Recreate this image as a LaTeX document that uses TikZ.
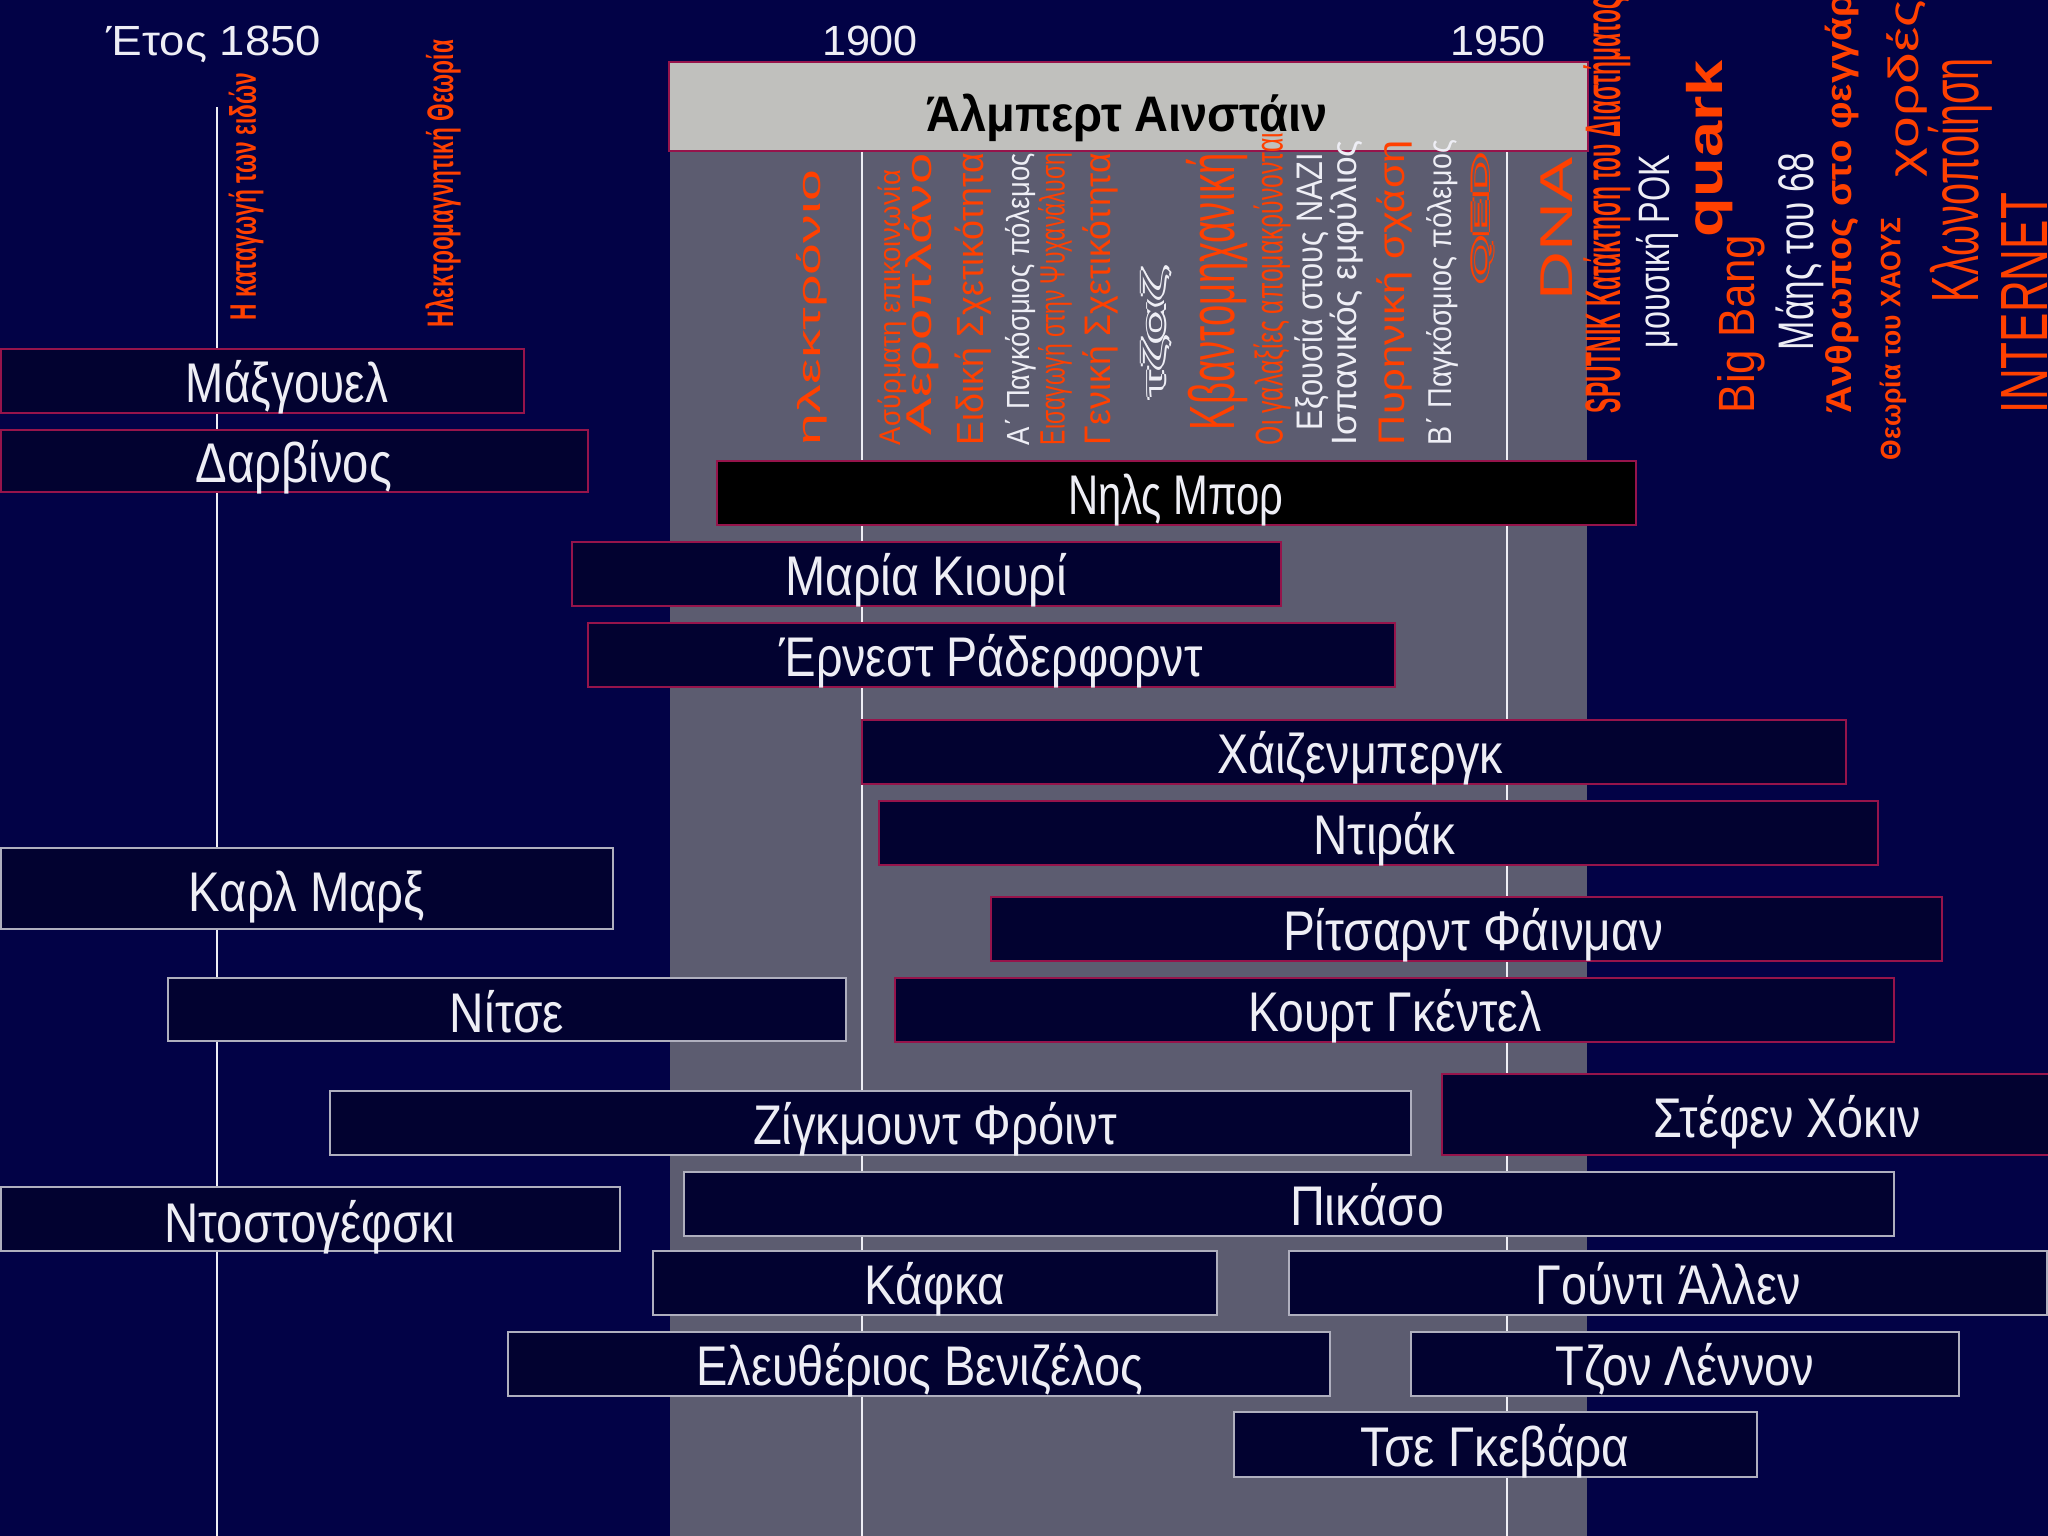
\documentclass[tikz,border=0pt]{standalone}
\usepackage{fontspec}
\setmainfont{Liberation Sans}
\usepackage{graphicx}
\newlength\pxu \setlength\pxu{0.01cm}
\newcommand\rs[2]{\resizebox{#1\pxu}{\height}{#2}}
\newcommand\fsz[1]{\fontsize{#1}{#1}\selectfont}
\newcommand\outl[3]{\leavevmode\rlap{\color{#1}\kern-.45pt#3}\rlap{\color{#1}\kern.45pt#3}\rlap{\color{#1}\raisebox{.45pt}{#3}}\rlap{\color{#1}\raisebox{-.45pt}{#3}}{\color{#2}#3}}
\definecolor{bg}{RGB}{2,2,70}
\definecolor{boxf}{RGB}{2,2,48}
\definecolor{greyarea}{RGB}{92,92,112}
\definecolor{hdr}{RGB}{192,192,189}
\definecolor{mar}{RGB}{150,20,75}
\definecolor{gbord}{RGB}{175,175,190}
\definecolor{rd}{RGB}{255,64,0}
\definecolor{wt}{RGB}{238,238,245}
\tikzset{
 vt/.style={rotate=90, anchor=west, inner sep=0pt, outer sep=0pt},
 nm/.style={anchor=base, inner sep=0pt, text=wt, font=\fsz{15.9}},
 mbox/.style={draw=mar, fill=boxf, line width=0.8pt},
 gbox/.style={draw=gbord, fill=boxf, line width=0.8pt},
 tl/.style={draw=wt, line width=0.6pt},
 yr/.style={anchor=base, inner sep=0pt, text=wt, font=\fsz{12}},
}
\begin{document}
\begin{tikzpicture}[x=0.01cm,y=-0.01cm]
\useasboundingbox (0,0) rectangle (2048,1536);
\clip (0,0) rectangle (2048,1536);
\fill[bg] (0,0) rectangle (2048,1536);
\fill[greyarea] (670,150) rectangle (1587,1536);
% time lines
\coordinate (a1850) at (217,107); \coordinate (b1850) at (217,1536);
\coordinate (a1900) at (862,151); \coordinate (b1900) at (862,1536);
\coordinate (a1950) at (1507,151); \coordinate (b1950) at (1507,1536);
\draw[tl] (a1850) -- (b1850);
\draw[tl] (a1900) -- (b1900);
\draw[tl] (a1950) -- (b1950);
% years
\node[yr] (y1850) at (214,55) {\rs{214}{Έτος 1850}};
\node[yr] (y1900) at (870,55) {\rs{96}{1900}};
\node[yr] (y1950) at (1498,55) {\rs{96}{1950}};
% header
\path[draw=mar, fill=hdr, line width=0.8pt] (669,62) rectangle (1588,151);
\node[anchor=base, inner sep=0pt, font=\fsz{14.2}\bfseries] (einstein) at (1127,131) {\rs{401}{Άλμπερτ Αινστάιν}};
% vertical texts
\node[vt, text=rd, font=\fsz{10.5}\bfseries] (vA) at (246,320) {\rs{247}{Η καταγωγή των ειδών}};
\node[vt, text=rd, font=\fsz{10.5}\bfseries] (vB) at (443,327) {\rs{287}{Ηλεκτρομαγνητική Θεωρία}};
\node[vt, text=rd, font=\fsz{9.1}] (v1) at (812,445) {\rs{275}{ηλεκτρόνιο}};
\node[vt, text=rd, font=\fsz{8.5}] (v2) at (892,445) {\rs{275}{Ασύρματη επικοινωνία}};
\node[vt, text=rd, font=\fsz{10.2}] (v3) at (922,435) {\rs{282}{Αεροπλάνο}};
\node[vt, text=rd, font=\fsz{10.8}] (v4) at (973,445) {\rs{292}{Ειδική Σχετικότητα}};
\node[vt, text=wt, font=\fsz{9.1}] (v5) at (1021,445) {\rs{292}{Α΄ Παγκόσμιος πόλεμος}};
\node[vt, text=rd, font=\fsz{10}] (v6) at (1055,445) {\rs{292}{Εισαγωγή στην Ψυχανάλυση}};
\node[vt, text=rd, font=\fsz{10.5}] (v7) at (1100,445) {\rs{292}{Γενική Σχετικότητα}};
\node[vt, font=\fsz{9.1}] (v8) at (1156,398) {\rs{130}{\outl{wt}{greyarea}{τζαζ}}};
\node[vt, text=rd, font=\fsz{18.2}] (v9) at (1217,430) {\rs{277}{Κβαντομηχανική}};
\node[vt, text=rd, font=\fsz{11}] (v10) at (1272,445) {\rs{312}{Οι γαλαξίες απομακρύνονται}};
\node[vt, text=wt, font=\fsz{10.5}] (v11) at (1312,430) {\rs{277}{Εξουσία στους NAZI}};
\node[vt, text=wt, font=\fsz{10}] (v12) at (1347,445) {\rs{305}{Ισπανικός εμφύλιος}};
\node[vt, text=rd, font=\fsz{10.5}] (v13) at (1394,445) {\rs{305}{Πυρηνική σχάση}};
\node[vt, text=wt, font=\fsz{9.4}] (v14) at (1442,445) {\rs{305}{Β΄ Παγκόσμιος πόλεμος}};
\node[vt, font=\fsz{6.8}] (v15) at (1483,283) {\rs{128}{\outl{rd}{greyarea}{QED}}};
\node[vt, text=rd, font=\fsz{13.1}] (v16) at (1557,300) {\rs{143}{DNA}};
\node[vt, text=rd, font=\fsz{14.2}\bfseries] (v17) at (1607,413) {\rs{415}{SPUTNIK Κατάκτηση του Διαστήματος}};
\node[vt, text=wt, font=\fsz{12.5}] (v18) at (1657,348) {\rs{193}{μουσική ΡΟΚ}};
\node[vt, text=rd, font=\fsz{14.2}\bfseries] (v19) at (1710,237) {\rs{177}{quark}};
\node[vt, text=rd, font=\fsz{14.5}] (v20) at (1741,413) {\rs{178}{Big Bang}};
\node[vt, text=wt, font=\fsz{14.2}] (v21) at (1800,350) {\rs{197}{Μάης του 68}};
\node[vt, text=rd, font=\fsz{10.2}\bfseries] (v22) at (1842,413) {\rs{430}{Άνθρωπος στο φεγγάρι}};
\node[vt, text=rd, font=\fsz{8}\bfseries] (v23) at (1893,460) {\rs{242}{Θεωρία του ΧΑΟΥΣ}};
\node[vt, text=rd, font=\fsz{12}] (v24) at (1907,177) {\rs{177}{χορδές}};
\node[vt, text=rd, font=\fsz{19}] (v25) at (1960,302) {\rs{244}{Κλωνοποίηση}};
\node[vt, text=rd, font=\fsz{19}] (v26) at (2024,413) {\rs{220}{INTERNET}};
% person boxes
\path[mbox] (1,349) rectangle (524,413);
\node[nm] (maxwell) at (287,402) {\rs{202}{Μάξγουελ}};
\path[mbox] (1,430) rectangle (588,492);
\node[nm] (darwin) at (294,482) {\rs{196}{Δαρβίνος}};
\path[mbox, fill=black] (717,461) rectangle (1636,525);
\node[nm] (bohr) at (1176,514) {\rs{215}{Νηλς Μπορ}};
\path[mbox] (572,542) rectangle (1281,606);
\node[nm] (curie) at (926,595) {\rs{282}{Μαρία Κιουρί}};
\path[mbox] (588,623) rectangle (1395,687);
\node[nm] (rutherford) at (991,676) {\rs{423}{Έρνεστ Ράδερφορντ}};
\path[mbox] (862,720) rectangle (1846,784);
\node[nm] (heisenberg) at (1360,773) {\rs{286}{Χάιζενμπεργκ}};
\path[mbox] (879,801) rectangle (1878,865);
\node[nm] (dirac) at (1384,854) {\rs{142}{Ντιράκ}};
\path[gbox] (1,848) rectangle (613,929);
\node[nm] (marx) at (307,911) {\rs{236}{Καρλ Μαρξ}};
\path[mbox] (991,897) rectangle (1942,961);
\node[nm] (feynman) at (1473,950) {\rs{380}{Ρίτσαρντ Φάινμαν}};
\path[gbox] (168,978) rectangle (846,1041);
\node[nm] (nietzsche) at (507,1032) {\rs{114}{Νίτσε}};
\path[mbox] (895,978) rectangle (1894,1042);
\node[nm] (goedel) at (1395,1031) {\rs{293}{Κουρτ Γκέντελ}};
\path[gbox] (330,1091) rectangle (1411,1155);
\node[nm] (freud) at (935,1144) {\rs{364}{Ζίγκμουντ Φρόιντ}};
\path[mbox] (1442,1074) rectangle (2100,1155);
\node[nm] (hawking) at (1787,1137) {\rs{268}{Στέφεν Χόκιν}};
\path[gbox] (1,1187) rectangle (620,1251);
\node[nm] (dostoevsky) at (310,1242) {\rs{291}{Ντοστογέφσκι}};
\path[gbox] (684,1172) rectangle (1894,1236);
\node[nm] (picasso) at (1367,1225) {\rs{154}{Πικάσο}};
\path[gbox] (653,1251) rectangle (1217,1315);
\node[nm] (kafka) at (935,1304) {\rs{141}{Κάφκα}};
\path[gbox] (1289,1251) rectangle (2047,1315);
\node[nm] (allen) at (1668,1304) {\rs{265}{Γούντι Άλλεν}};
\path[gbox] (508,1332) rectangle (1330,1396);
\node[nm] (venizelos) at (920,1385) {\rs{447}{Ελευθέριος Βενιζέλος}};
\path[gbox] (1411,1332) rectangle (1959,1396);
\node[nm] (lennon) at (1685,1385) {\rs{259}{Τζον Λέννον}};
\path[gbox] (1234,1412) rectangle (1757,1477);
\node[nm] (guevara) at (1495,1466) {\rs{269}{Τσε Γκεβάρα}};
\end{tikzpicture}
\end{document}
